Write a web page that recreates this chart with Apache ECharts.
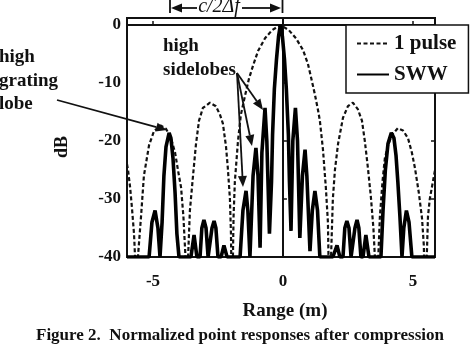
<!DOCTYPE html>
<html>
<head>
<meta charset="utf-8">
<script src="https://cdn.jsdelivr.net/npm/echarts@6/dist/echarts.min.js"></script>
<style>
html, body { margin: 0; padding: 0; background: #fff; }
#Chart { width: 474px; height: 351px; }
</style>
</head>
<body>
<div id="Chart"></div>
<script>
var Chart = echarts.init(document.getElementById('Chart'));

var serif = '"Liberation Serif", "DejaVu Serif", serif';

// tick labels
var rangeTicks = [-5, 0, 5];
var dbTicks = [0, -10, -20, -30, -40];

// 1 pulse (dashed)
var pulseRange = [-6.00, -5.96, -5.88, -5.81, -5.73, -5.67, -5.63, -5.58, -5.46, -5.35, -5.15, -4.96, -4.71, -4.50, -4.31, -4.15, -4.04, -3.92, -3.83, -3.75,
    -3.71, -3.65, -3.58, -3.46, -3.35, -3.23, -3.08, -2.81, -2.58, -2.42, -2.31, -2.19, -2.12, -2.04, -2.00, -1.96, -1.90, -1.85, -1.73, -1.62,
    -1.46, -1.31, -1.15, -0.96, -0.69, -0.42, -0.10, 0.23, 0.50, 0.77, 0.96, 1.08, 1.23, 1.35, 1.42, 1.54, 1.65, 1.73, 1.79, 1.85,
    1.92, 2.00, 2.12, 2.31, 2.50, 2.69, 2.88, 3.04, 3.15, 3.27, 3.38, 3.48, 3.56, 3.62, 3.65, 3.73, 3.83, 3.92, 4.06, 4.19,
    4.42, 4.62, 4.81, 4.96, 5.08, 5.23, 5.35, 5.42, 5.48, 5.52, 5.58, 5.65, 5.73, 5.85];
var pulseDb = [-24, -25, -28, -31.5, -36, -42, -50, -40, -33, -26, -20.7, -18.3, -17.3, -17.9, -19.5, -22, -25, -28, -33, -40,
    -50, -40, -32, -26, -20.7, -16.5, -14.3, -13.4, -14, -15.5, -17, -21, -24.7, -30, -36, -50, -33, -27, -20, -15.5,
    -12.2, -9.3, -7, -4.5, -2.3, -0.9, 0, -0.9, -2.3, -4.3, -6.7, -9, -12, -14.7, -16.5, -21.5, -28, -34, -50, -40,
    -30, -25, -20.5, -16, -14, -13.4, -14.5, -16.5, -20, -24.7, -29.5, -35, -42, -50, -42, -33, -27, -23, -20.5, -19,
    -17.8, -18.2, -19.5, -22, -24.7, -29, -33.3, -38, -50, -42, -33, -30, -28, -25];

// SWW (solid)
var swwRange = [-6.00, -5.15, -5.04, -4.92, -4.81, -4.73, -4.65, -4.58, -4.50, -4.38, -4.31, -4.23, -4.15, -4.08, -4.00, -3.54, -3.42, -3.31, -3.19, -3.12,
    -3.04, -2.96, -2.88, -2.81, -2.73, -2.65, -2.58, -2.50, -2.38, -2.27, -2.15, -1.65, -1.54, -1.42, -1.35, -1.27, -1.15, -1.04, -0.96, -0.88,
    -0.81, -0.69, -0.62, -0.52, -0.44, -0.40, -0.33, -0.25, -0.17, -0.10, -0.02, 0.06, 0.13, 0.21, 0.25, 0.31, 0.38, 0.48, 0.56, 0.65,
    0.75, 0.85, 0.92, 1.04, 1.13, 1.23, 1.33, 1.42, 1.92, 2.08, 2.19, 2.31, 2.38, 2.46, 2.54, 2.62, 2.69, 2.77, 2.85, 2.92,
    3.00, 3.08, 3.19, 3.31, 3.77, 3.85, 3.94, 4.04, 4.17, 4.27, 4.35, 4.42, 4.50, 4.58, 4.65, 4.75, 4.85, 4.96, 5.85];
var swwDb = [-40, -40, -34, -32, -35, -40, -34, -26, -21, -18.6, -19.5, -23, -29, -36, -40, -40, -36.2, -40, -40, -35,
    -33.6, -35, -40, -40, -35, -33.8, -35, -40, -40, -38, -40, -40, -32, -28.6, -32, -40, -26, -21.2, -26, -38.4,
    -22, -14.3, -20, -36, -27, -19, -11, -6, -2, 0, -2, -6, -11, -19, -27, -35.5, -20, -14.3, -20, -36.7,
    -26, -21.5, -26, -39, -32, -28.6, -32, -40, -40, -38, -40, -40, -35, -33.8, -35, -40, -40, -35, -33.6, -35,
    -40, -40, -36.2, -40, -40, -32, -25, -20.5, -18.6, -19.5, -22.5, -27, -33, -40, -35, -32, -34, -40, -40];

function pairs(xs, ys) {
    var out = [];
    for (var i = 0; i < xs.length; i++) out.push([xs[i], ys[i]]);
    return out;
}

// arrow = line + filled head
function arrow(x1, y1, x2, y2) {
    var a = Math.atan2(y2 - y1, x2 - x1), L = 11, W = 4.5;
    var bx = x2 - L * Math.cos(a), by = y2 - L * Math.sin(a);
    var px = -Math.sin(a) * W, py = Math.cos(a) * W;
    return [
        {type: 'line', shape: {x1: x1, y1: y1, x2: bx, y2: by}, style: {stroke: '#111', lineWidth: 1.8}},
        {type: 'polygon', shape: {points: [[x2, y2], [bx + px, by + py], [bx - px, by - py]]}, style: {fill: '#111'}}
    ];
}

function label(text, x, y, size) {
    return {type: 'text', style: {text: text, x: x, y: y, fill: '#111', font: 'bold ' + size + 'px ' + serif,
        textAlign: 'left', textVerticalAlign: 'middle'}};
}

var annotations = [].concat(
    [label('high', -1, 57, 19), label('grating', -1, 81, 19), label('lobe', -1, 104, 19)],
    arrow(57, 100, 167, 130),
    [label('high', 163, 46, 19), label('sidelobes', 163, 70, 19)],
    arrow(237, 73, 263, 110),
    arrow(237, 73, 252, 146),
    arrow(237, 73, 243, 187),
    [
        {type: 'line', shape: {x1: 170, y1: 0, x2: 170, y2: 13}, style: {stroke: '#111', lineWidth: 1.8}},
        {type: 'line', shape: {x1: 282.5, y1: 0, x2: 282.5, y2: 13}, style: {stroke: '#111', lineWidth: 1.8}},
        {type: 'text', style: {text: 'c/2Δf', x: 219, y: 7, fill: '#111', font: 'italic 20px ' + serif,
            textAlign: 'center', textVerticalAlign: 'middle'}}
    ],
    arrow(197, 8, 171, 8),
    arrow(242, 8, 281, 8),
    [
        {type: 'text', rotation: Math.PI / 2, x: 62, y: 147,
            style: {text: 'dB', x: 0, y: 0, fill: '#111', font: 'bold 18px ' + serif, textAlign: 'center', textVerticalAlign: 'middle'}},
        {type: 'text', style: {text: 'Range (m)', x: 285, y: 311, fill: '#111', font: 'bold 19px ' + serif,
            textAlign: 'center', textVerticalAlign: 'middle'}},
        {type: 'text', style: {text: 'Figure 2.  Normalized point responses after compression', x: 240, y: 336, fill: '#111',
            font: 'bold 17px ' + serif, textAlign: 'center', textVerticalAlign: 'middle'}}
    ]
);

var option = {
    animation: false,
    backgroundColor: '#fff',
    grid: {left: 127, right: 39, top: 18, bottom: 94, show: true, borderColor: '#111', borderWidth: 2},
    legend: {
        orient: 'vertical', left: 346, top: 25,
        backgroundColor: '#fff', borderColor: '#111', borderWidth: 1.5,
        padding: [8, 12, 8, 10], itemGap: 10, itemWidth: 32, itemHeight: 14,
        itemStyle: {color: 'rgba(0,0,0,0)', borderColor: 'rgba(0,0,0,0)', borderWidth: 0},
        textStyle: {fontFamily: serif, fontWeight: 'bold', fontSize: 21, color: '#111'},
        data: ['1 pulse', 'SWW']
    },
    xAxis: {
        type: 'value', min: -6, max: 5.85,
        axisLine: {lineStyle: {color: '#111', width: 2}},
        axisTick: {inside: true, length: 4, customValues: rangeTicks, lineStyle: {color: '#111', width: 1.5}},
        axisLabel: {customValues: rangeTicks, margin: 16, color: '#111', fontFamily: serif, fontWeight: 'bold', fontSize: 17},
        splitLine: {show: false}
    },
    yAxis: [{
        type: 'value', min: -40, max: 1.2,
        axisLine: {show: true, lineStyle: {color: '#111', width: 2}},
        axisTick: {show: true, inside: true, length: 4, customValues: dbTicks, lineStyle: {color: '#111', width: 1.5}},
        axisLabel: {customValues: dbTicks, margin: 6, color: '#111', fontFamily: serif, fontWeight: 'bold', fontSize: 17},
        splitLine: {show: false}
    }, {
        type: 'value', min: -40, max: 1.2, position: 'right',
        axisLine: {show: true, lineStyle: {color: '#111', width: 2}},
        axisTick: {show: true, inside: true, length: 4, customValues: dbTicks, lineStyle: {color: '#111', width: 1.5}},
        axisLabel: {show: false},
        splitLine: {show: false}
    }],
    graphic: annotations,
    series: [{
        name: '1 pulse',
        type: 'line',
        data: pairs(pulseRange, pulseDb),
        symbol: 'none',
        clip: true,
        itemStyle: {color: '#111'},
        lineStyle: {color: '#111', width: 2.2, type: [4, 2.5]},
        z: 2
    }, {
        name: 'SWW',
        type: 'line',
        data: pairs(swwRange, swwDb),
        symbol: 'none',
        clip: true,
        itemStyle: {color: '#000'},
        lineStyle: {color: '#000', width: 3.6},
        z: 3
    }]
};

Chart.setOption(option);

window.addEventListener("resize", function () {
    Chart.resize();
});
</script>
</body>
</html>
